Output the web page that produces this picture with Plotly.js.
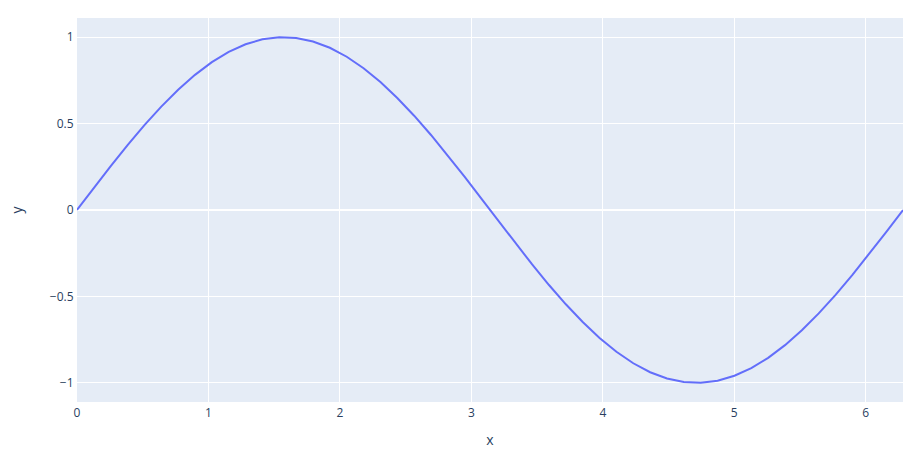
<!DOCTYPE html>
<html>
<head>
<meta charset="utf-8">
<script src="https://cdn.plot.ly/plotly-3.0.1.min.js"></script>
<style>html,body{margin:0;padding:0;background:#fff;}#chart{width:918px;height:461px;}</style>
</head>
<body>
<div id="chart"></div>
<script>
const xValues = [0, 0.1282, 0.2565, 0.3847, 0.5129, 0.6411, 0.7694, 0.8976, 1.0258, 1.1541,
  1.2823, 1.4105, 1.5387, 1.6670, 1.7952, 1.9234, 2.0517, 2.1799, 2.3081, 2.4363,
  2.5646, 2.6928, 2.8210, 2.9493, 3.0775, 3.2057, 3.3339, 3.4622, 3.5904, 3.7186,
  3.8469, 3.9751, 4.1033, 4.2315, 4.3598, 4.4880, 4.6162, 4.7445, 4.8727, 5.0009,
  5.1291, 5.2574, 5.3856, 5.5138, 5.6421, 5.7703, 5.8985, 6.0268, 6.1550, 6.2832];
const yValues = [0, 0.1279, 0.2537, 0.3753, 0.4907, 0.5981, 0.6956, 0.7818, 0.8551, 0.9145,
  0.9587, 0.9872, 0.9995, 0.9954, 0.9750, 0.9383, 0.8865, 0.8201, 0.7403, 0.6482,
  0.5455, 0.4339, 0.3151, 0.1912, 0.0641, -0.0641, -0.1912, -0.3151, -0.4339, -0.5455,
  -0.6482, -0.7403, -0.8201, -0.8865, -0.9383, -0.9750, -0.9954, -0.9995, -0.9872, -0.9587,
  -0.9145, -0.8551, -0.7818, -0.6956, -0.5981, -0.4907, -0.3753, -0.2537, -0.1279, 0];
const xTitle = 'x';
const yTitle = 'y';

const trace = {
  x: xValues, y: yValues, type: 'scatter', mode: 'lines',
  line: {color: '#636efa', width: 2}, showlegend: false
};
const axisCommon = {
  gridcolor: 'white', zerolinecolor: 'white', zerolinewidth: 2,
  linecolor: 'white', ticks: '', automargin: false,
  tickfont: {size: 12, color: '#2a3f5f'}
};
const layout = {
  width: 918, height: 461,
  margin: {l: 77, r: 15, t: 18, b: 59},
  paper_bgcolor: 'white', plot_bgcolor: '#E5ECF6',
  font: {family: '"Open Sans", verdana, arial, sans-serif', size: 12, color: '#2a3f5f'},
  xaxis: Object.assign({}, axisCommon, {title: {text: xTitle, standoff: 14}, autorange: true}),
  yaxis: Object.assign({}, axisCommon, {title: {text: yTitle, standoff: 23}, autorange: true}),
  hovermode: 'closest'
};
Plotly.newPlot('chart', [trace], layout, {displayModeBar: false});
</script>
</body>
</html>
